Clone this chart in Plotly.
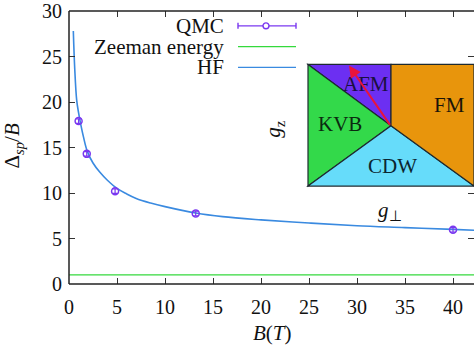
import plotly.graph_objects as go

# QMC spin-polarisation gap per field
qmc_B = [1.0, 1.85, 4.8, 13.2, 40.0]
qmc_gap = [17.9, 14.3, 10.2, 7.75, 5.95]
qmc_err = [0.25, 0.25, 0.25, 0.25, 0.25]

# Hartree-Fock curve
hf_B = [0.45, 0.6, 0.8, 1.0, 1.25, 1.5, 1.9, 2.5, 3.2, 4.0, 5.0, 6.0, 7.0,
        8.5, 10.0, 13.2, 16.0, 20.0, 25.0, 30.0, 35.0, 40.0, 42.2]
hf_gap = [27.8, 23.6, 20.2, 18.8, 17.4, 16.2, 14.6, 13.3, 12.3, 11.4, 10.5,
          9.9, 9.4, 8.9, 8.5, 7.8, 7.4, 7.05, 6.7, 6.4, 6.2, 6.0, 5.9]

# Bare Zeeman energy
zee_B = [0.0, 42.2]
zee_gap = [1.0, 1.0]

x_ticks = [0, 5, 10, 15, 20, 25, 30, 35, 40]
y_ticks = [0, 5, 10, 15, 20, 25, 30]

W, H = 474, 348
L, T, R, B = 69, 8, 474, 284
FONT = "Liberation Serif"

PURPLE = "#7a38f0"
GREEN = "#34d93c"
BLUE = "#3a8ae0"


def px(x):
    return (x - L) / (R - L)


def py(y):
    return (B - y) / (B - T)


fig = go.Figure()

fig.add_trace(go.Scatter(
    x=zee_B, y=zee_gap, mode="lines",
    line=dict(color=GREEN, width=1.4), showlegend=False))

fig.add_trace(go.Scatter(
    x=hf_B, y=hf_gap, mode="lines", line_shape="spline",
    line=dict(color=BLUE, width=1.6), showlegend=False))

fig.add_trace(go.Scatter(
    x=qmc_B, y=qmc_gap, mode="markers",
    marker=dict(symbol="circle-open", size=7, color=PURPLE,
                line=dict(width=1.5, color=PURPLE)),
    error_y=dict(type="data", array=qmc_err, color=PURPLE,
                 thickness=1.2, width=3),
    showlegend=False))

# secondary axes carry the mirrored inside ticks
fig.add_trace(go.Scatter(x=[None], y=[None], xaxis="x2", yaxis="y2",
                         showlegend=False))

tickfont = dict(family=FONT, size=20, color="#111")
fig.update_layout(
    width=W, height=H,
    margin=dict(l=L, r=W - R, t=T, b=H - B),
    paper_bgcolor="white", plot_bgcolor="white",
    xaxis=dict(range=[0, (R - L) / 9.6], tickvals=x_ticks, ticks="inside",
               ticklen=6, tickcolor="#333", showgrid=False, zeroline=False,
               showline=False, tickfont=tickfont, ticklabelstandoff=9,
               ticklabeloverflow="allow"),
    yaxis=dict(range=[0, 30], tickvals=y_ticks, ticks="inside",
               ticklen=6, tickcolor="#333", showgrid=False, zeroline=False,
               showline=False, tickfont=tickfont, ticklabelstandoff=6,
               ticklabeloverflow="allow"),
    xaxis2=dict(overlaying="x", side="top", range=[0, (R - L) / 9.6],
                tickvals=x_ticks, ticks="inside", ticklen=6, tickcolor="#333",
                showticklabels=False, showgrid=False, zeroline=False),
    yaxis2=dict(overlaying="y", side="right", range=[0, 30],
                tickvals=y_ticks, ticks="inside", ticklen=6, tickcolor="#333",
                showticklabels=False, showgrid=False, zeroline=False),
)

shapes = []
# frame: left, bottom, top
for x0, y0, x1, y1 in [(0, 0, 0, 1), (0, 0, 1, 0), (0, 1, 1, 1)]:
    shapes.append(dict(type="line", xref="paper", yref="paper",
                       x0=x0, y0=y0, x1=x1, y1=y1,
                       line=dict(color="#222", width=1.5)))


# legend samples
def hline(x0, x1, y, color, w=1.4):
    shapes.append(dict(type="line", xref="paper", yref="paper",
                       x0=px(x0), x1=px(x1), y0=py(y), y1=py(y),
                       line=dict(color=color, width=w)))


def vline(x, y0, y1, color, w=1.4):
    shapes.append(dict(type="line", xref="paper", yref="paper",
                       x0=px(x), x1=px(x), y0=py(y0), y1=py(y1),
                       line=dict(color=color, width=w)))


hline(238, 296, 23, PURPLE)
vline(238, 20, 26, PURPLE)
vline(296, 20, 26, PURPLE)
shapes.append(dict(type="circle", xref="paper", yref="paper",
                   x0=px(263), x1=px(269), y0=py(20), y1=py(26),
                   line=dict(color=PURPLE, width=1.4), fillcolor="white"))
hline(238, 296, 44, GREEN)
hline(238, 296, 65, BLUE)

# phase-diagram inset
ix0, ix1, iy0, iy1 = 308, 474, 62, 185
cx, cy = 391, 124


def poly(pts, fill):
    d = "M " + " L ".join(f"{px(a):.5f},{py(b):.5f}" for a, b in pts) + " Z"
    shapes.append(dict(type="path", xref="paper", yref="paper", path=d,
                       fillcolor=fill, line=dict(color="#1e2a30", width=1.2)))


poly([(ix0, iy0), (cx, iy0), (cx, cy)], "#6c2ff2")          # AFM
poly([(ix0, iy0), (cx, cy), (ix0, iy1)], "#33d94a")         # KVB
poly([(ix0, iy1), (cx, cy), (ix1, iy1)], "#66dcfa")         # CDW
poly([(cx, iy0), (ix1, iy0), (ix1, iy1), (cx, cy)], "#e8950c")  # FM

fig.update_layout(shapes=shapes)

ann = []


def label(x, y, text, size=21, xanchor="center", angle=0, color="#111"):
    ann.append(dict(xref="paper", yref="paper", x=px(x), y=py(y), text=text,
                    showarrow=False, xanchor=xanchor, yanchor="middle",
                    textangle=angle,
                    font=dict(family=FONT, size=size, color=color)))


label(226, 23, "QMC", xanchor="right")
label(226, 44, "Zeeman energy", xanchor="right")
label(226, 65, "HF", xanchor="right")

label(366, 82, "AFM", color="#1a1040")
label(449, 103, "FM", color="#1a1408")
label(340, 122, "KVB", color="#0b2a10")
label(392, 165, "CDW", color="#0b2630")
label(390, 210, "<i>g</i><sub>⊥</sub>")
label(274, 127, "<i>g</i><sub>z</sub>", angle=-90)

label(272, 334, "<i>B</i>(<i>T</i>)")
label(13, 145, "Δ<sub><i>sp</i></sub>/<i>B</i>", angle=-90)

# field-direction arrow inside the AFM wedge
ann.append(dict(xref="paper", yref="paper", x=px(349), y=py(63),
                ax=cx - 349, ay=cy - 63, axref="pixel", ayref="pixel",
                showarrow=True, arrowhead=2, arrowsize=1.2, arrowwidth=2,
                arrowcolor="#e8143c", text=""))

fig.update_layout(annotations=ann)

fig.write_html("out.html")
